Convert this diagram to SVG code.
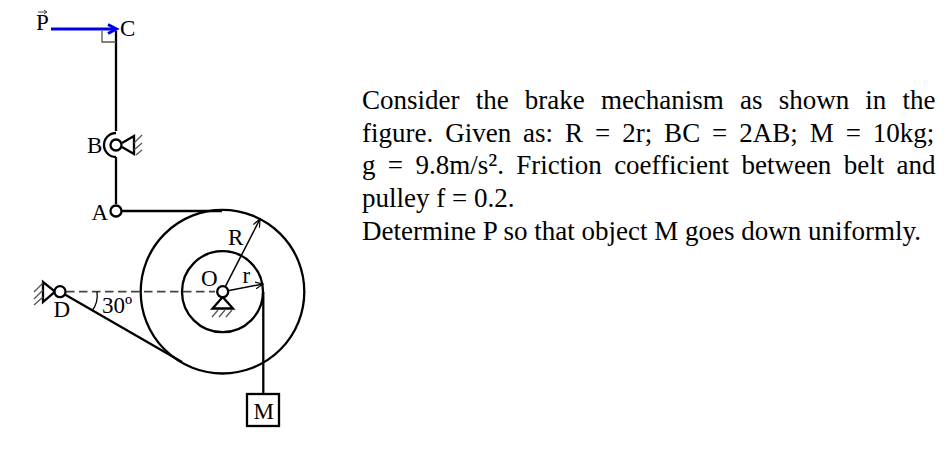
<svg xmlns="http://www.w3.org/2000/svg" width="952" height="458" viewBox="0 0 952 458">
<style>
text{font-family:"Liberation Serif","Times New Roman",serif;fill:#000}
.p{font-size:27px}
.l{font-size:23px}
.s{fill:none;stroke:#000;stroke-width:2.3}
.j{fill:#fff;stroke:#000;stroke-width:2.3}
.t{fill:none;stroke:#000;stroke-width:1.5}
.h{fill:none;stroke:#555;stroke-width:1.3}
</style>
<defs>
<marker id="a" markerWidth="10" markerHeight="8" refX="8" refY="4" orient="auto" markerUnits="userSpaceOnUse"><path d="M0 .5L8 4L0 7.5" fill="none" stroke="#000" stroke-width="1.2"/></marker>
</defs>
<rect width="952" height="458" fill="#fff"/>
<g id="connectors">
<path class="s" d="M116 31V131M116 157V204M122 211H222"/>
<path d="M66 291.700H215" fill="none" stroke="#444" stroke-width="1.800" stroke-dasharray="8.500 4.500"/>
<path class="s" d="M64 294L182 362"/>
<path class="s" d="M263.300 292V394"/>
<path class="t" d="M222.700 291.700L260 219" marker-end="url(#a)"/>
<path class="t" d="M222.700 291.700L263 284" marker-end="url(#a)"/>
<path d="M97 291.700A26 26 0 0 1 92 311" fill="none" stroke="#000" stroke-width="1.300"/>
<path class="h" d="M102 31V42H116"/>
<path d="M51 29H115" fill="none" stroke="#0000e6" stroke-width="3"/>
<path d="M108 24.500L116.500 29L108 33.500" fill="none" stroke="#0000e6" stroke-width="3"/>
</g>
<g id="pulley">
<circle class="s" cx="222.500" cy="291.700" r="81.800"/>
<circle class="s" cx="222.500" cy="291.700" r="40.500"/>
</g>
<g id="support-O">
<path class="s" d="M222.700 297L212.500 308.500H233Z"/>
<path class="h" d="M212 317L218 310M219 317L225 310M226 317L232 310"/>
<circle class="j" cx="222.700" cy="291.700" r="5.500"/>
<text class="l" x="201" y="286">O</text>
<text class="l" x="242.500" y="283">r</text>
<text class="l" x="228" y="245">R</text>
</g>
<g id="support-B">
<path class="s" d="M116 133A12 12 0 0 0 116 157"/>
<path class="s" d="M122 143L134 136V154L122 147"/>
<path class="h" d="M134 143L142 135M134 150L142 143M136 155L142 150"/>
<circle class="j" cx="116" cy="145" r="5.500"/>
<text class="l" x="87" y="153">B</text>
</g>
<g id="support-D">
<path class="s" d="M55 291.700L43 282V302Z"/>
<path class="h" d="M34 292L43 283M34 299L43 290M34 305L43 297"/>
<circle class="j" cx="60" cy="291.700" r="5.500"/>
<text class="l" x="53.500" y="317">D</text>
<text class="l" x="102" y="313">30º</text>
</g>
<g id="joint-A">
<circle class="j" cx="116" cy="211" r="5.500"/>
<text class="l" x="91.500" y="220">A</text>
</g>
<g id="joint-C">
<text class="l" x="120" y="36">C</text>
</g>
<g id="force-P">
<text class="l" x="36" y="30">P</text>
<path d="M38 12H47M44 10L47 12L44 14" fill="none" stroke="#444" stroke-width="1"/>
</g>
<g id="mass-M">
<rect class="s" x="247" y="394" width="32" height="32"/>
<text class="l" x="253.500" y="419">M</text>
</g>
<g id="text">
<text class="p" x="362" y="109" word-spacing="9.400">Consider the brake mechanism as shown in the</text>
<text class="p" x="362" y="142" word-spacing="5.200">figure. Given as: R = 2r; BC = 2AB; M = 10kg;</text>
<text class="p" x="362" y="174" word-spacing="5.600">g = 9.8m/s<tspan font-size="30">²</tspan>. Friction coefficient between belt and</text>
<text class="p" x="362" y="207">pulley f = 0.2.</text>
<text class="p" x="362" y="240">Determine P so that object M goes down uniformly.</text>
</g>
</svg>
